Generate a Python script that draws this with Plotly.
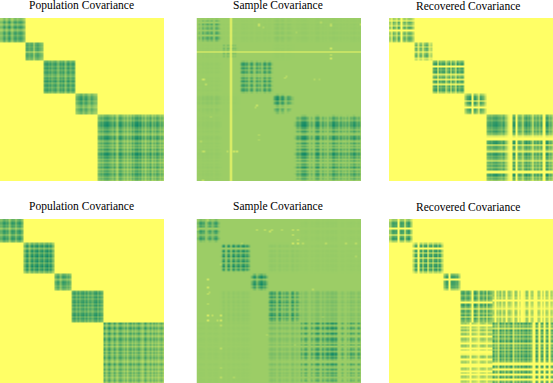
import plotly.graph_objects as go

TITLES = ["Population Covariance", "Sample Covariance", "Recovered Covariance"]

# block sizes (number of variables per block, 100 in all)
SIZES_TOP = [15, 11, 20, 13, 41]
SIZES_BOTTOM = [14, 19, 10, 20, 37]

# per-variable strengths
POP_TOP = [.72,.8,.92,.75,.85,.95,.78,.72,.9,.95,.82,.9,.95,.85,.7,
           .85,.9,.82,.9,.88,.5,.85,.92,.88,.8,.72,
           .78,.92,.95,.84,.92,.78,.88,.94,.82,.76,.92,.84,.94,.74,.88,.95,.82,.9,.92,.75,
           .75,.85,.92,.95,.8,.9,.92,.78,.72,.88,.84,.76,.72,
           .7,.82,.88,.8,.93,.96,.98,.9,.84,.74,.9,.76,.66,.92,.97,.84,.74,.88,.7,.82,.68,
           .9,.78,.95,.98,.86,.94,.76,.9,.7,.84,.76,.92,.72,.88,.78,.96,.86,.74,.88,.7]
SAM_TOP = [.66,.84,.62,.88,.66,.82,.9,.68,.88,.92,.64,.9,.92,.78,.66,
           .64,.82,.62,.86,.78,.1,.84,.74,.8,.68,.62,
           .68,.92,.96,.8,.92,.7,.88,.94,.68,.7,.92,.78,.92,.66,.86,.96,.76,.9,.92,.68,
           .65,.84,.96,.98,.74,.92,.94,.7,.65,.86,.8,.7,.65,
           .65,.8,.86,.78,.94,.96,.98,.9,.84,.66,.88,.7,.6,.92,.97,.84,.68,.88,.64,.8,.62,
           .9,.76,.96,.98,.84,.94,.72,.9,.66,.82,.72,.94,.68,.88,.76,.96,.86,.72,.88,.66]
REC_TOP = [.62,.0,.85,.72,.3,.9,.8,.0,.75,.92,.62,.85,.92,.8,.55,
           .7,.85,.4,.85,.8,.0,.75,.9,.85,.4,.55,
           .7,.9,.95,.0,.9,.75,.9,.92,.35,.75,.92,.3,.9,.78,.3,.95,.8,.9,.92,.6,
           .6,.85,.92,.95,.0,.9,.92,.7,.0,.88,.85,.75,.45,
           .72,.84,.88,.8,.92,.94,.96,.88,.84,.74,.9,.76,.62,.3,.0,.1,.92,.96,.0,.8,.9,
           .74,.35,.84,.95,.8,.9,.72,.25,.84,.76,.94,.7,.88,.2,.05,.92,.96,.72,.86,.62]

POP_BOT = [.8,.9,.95,.86,.92,.7,.85,.94,.9,.66,.88,.95,.9,.76,
           .72,.88,.95,.73,.9,.96,.76,.92,.98,.76,.9,.96,.74,.92,.98,.8,.94,.84,.7,
           .78,.9,.92,.72,.86,.94,.9,.78,.86,.75,
           .72,.9,.96,.82,.92,.76,.9,.94,.78,.92,.8,.94,.84,.76,.92,.96,.76,.92,.84,.74,
           .92,.74,.86,.96,.78,.7,.92,.8,.72,.9,.96,.82,.74,.92,.7,.86,.94,.76,
           .92,.76,.84,.96,.8,.68,.78,.92,.76,.7,.86,.72,.9,.76,.84,.7,.8,.88,.68]
SAM_BOT = [.72,.88,.94,.85,.92,.55,.78,.94,.86,.6,.84,.94,.86,.7,
           .6,.84,.96,.6,.86,.96,.64,.9,.98,.64,.86,.96,.62,.9,.98,.72,.92,.78,.6,
           .75,.92,.98,.7,.88,.95,.98,.8,.9,.72,
           .65,.88,.96,.8,.92,.66,.86,.96,.7,.9,.76,.92,.84,.64,.9,.96,.68,.9,.82,.66,
           .94,.68,.86,.96,.72,.6,.94,.76,.66,.9,.96,.82,.68,.94,.6,.86,.96,.72,
           .94,.98,.82,.96,.76,.6,.7,.92,.7,.6,.86,.68,.9,.76,.84,.64,.78,.88,.65]
REC_BOT = [.62,.85,.92,.88,.9,.0,.82,.92,.88,.0,.82,.95,.88,.55,
           .5,.85,.9,.0,.85,.92,.35,.9,.95,.0,.85,.92,.4,.9,.95,.6,.92,.8,.5,
           .7,.9,.92,.0,.88,.92,.9,.82,.85,.55,
           .76,.9,.95,.74,.88,.94,.72,.0,.9,.95,.76,.2,.86,.92,.72,.9,.3,.88,.78,.7,
           .92,.7,.88,.45,.94,.74,.84,.5,.9,.72,.86,.95,.45,.9,.74,.88,.55,.92,.72,.86,.94,.7,.88,.74,
           .0,.1,.92,.76,.0,.86,.94,.0,.78,.9,.0,.72,.84]

# thin pattern between the last two blocks of the lower recovered panel
REC_BOT_CROSS_A = [.55,.7,.6,.7,.5,.6,.0,.6,.55,.5,.3,.0,.55,.7,.65,.5,.0,.6,.6,.5]
REC_BOT_CROSS_B = [.6,.0,.7,.4,.7,.0,.6,.7,.0,.6,.7,.4,.0,.7,.6,.0,.5,.0,.0,.1,.7,.6,.0,.5,
                   .6,.0,.0,.6,.5,.0,.6,.0,.6,.5,.0,.6,.4]

BACK_SAMPLE = 0.39
CONTRAST = 1.65       # how strongly the block colours spread
CONTRAST_RECOVERED = 1.55

# (block, block, strength) faint structure between blocks of the sample panels
SAM_TOP_LINKS = [(0, 1, .06), (0, 2, .05), (0, 3, .16), (0, 4, .07), (1, 3, .04)]
SAM_BOT_LINKS = [(3, 4, .32), (1, 3, .10), (1, 4, .05), (0, 4, .05)]
LINK_FLOOR = 0.5

# (row, column, value) pale single cells of the sample panels
SAM_TOP_SPECKS = [(4,37,.2),(4,81,.2),(3,37,.2),(81,4,.2),(81,18,.15),(81,24,.15),(54,35,.2),
                  (18,81,.15),(22,81,.15),(36,53,.2),(71,37,.22),(3,81,.25),(3,99,.2),
                  (40,5,.25),(60,8,.28),(75,2,.28),(74,37,.25)]
SAM_BOT_SPECKS = [(36,6,.15),(41,6,.15),(45,6,.15),(51,6,.2),(58,6,.1),(61,6,.12),(58,9,.12),
                  (61,12,.15),(58,14,.15),(61,14,.15),(44,7,.2),(6,0,.3),(90,14,.25),(96,14,.25),
                  (27,14,.3),(42,70,.25),(59,76,.3),(22,96,.3),(64,14,.25),(78,14,.25)]
TOP_PALE_LINE = 20
TOP_PALE_VALUE = 0.07


def panel(weights, sizes, background=0.0, links=(), specks=(), contrast=CONTRAST):
    total = sum(sizes)
    owner = [b for b, s in enumerate(sizes) for _ in range(s)]
    strength = {(a, b): c for a, b, c in links}
    strength.update({(b, a): c for a, b, c in links})
    z = []
    for i in range(total):
        row = []
        for j in range(total):
            product = weights[i] * weights[j]
            if owner[i] == owner[j]:
                row.append(max(background, product ** contrast))
            else:
                lift = strength.get((owner[i], owner[j]), 0) * max(0, product - LINK_FLOOR)
                row.append(background + lift)
        z.append(row)
    for i, j, v in specks:
        z[i][j] = v
        z[j][i] = v
    return z


z_pop_top = panel(POP_TOP, SIZES_TOP)
z_sam_top = panel(SAM_TOP, SIZES_TOP, BACK_SAMPLE, SAM_TOP_LINKS, SAM_TOP_SPECKS)
for k in range(100):
    z_sam_top[TOP_PALE_LINE][k] = TOP_PALE_VALUE
    z_sam_top[k][TOP_PALE_LINE] = TOP_PALE_VALUE
z_rec_top = panel(REC_TOP, SIZES_TOP, contrast=CONTRAST_RECOVERED)
z_pop_bot = panel(POP_BOT, SIZES_BOTTOM)
z_sam_bot = panel(SAM_BOT, SIZES_BOTTOM, BACK_SAMPLE, SAM_BOT_LINKS, SAM_BOT_SPECKS)
z_rec_bot = panel(REC_BOT, SIZES_BOTTOM, contrast=CONTRAST_RECOVERED)
for ia, a in enumerate(REC_BOT_CROSS_A):
    for ib, b in enumerate(REC_BOT_CROSS_B):
        z_rec_bot[43 + ia][63 + ib] = a * b
        z_rec_bot[63 + ib][43 + ia] = a * b

W, H = 553, 383
COLS = [(0, 164), (196.5, 361), (389, 553)]
ROWS = [(18, 181), (219, 383)]
TITLE_X = [81.5, 278, 468]
TITLE_Y = [5.5, 206.5]
SUMMER_R = [[0, "#ffff66"], [1, "#008066"]]

fig = go.Figure()
layout = dict(width=W, height=H, margin=dict(l=0, r=0, t=0, b=0),
              paper_bgcolor="white", plot_bgcolor="white", showlegend=False, annotations=[])
panels = [z_pop_top, z_sam_top, z_rec_top, z_pop_bot, z_sam_bot, z_rec_bot]
for n, z in enumerate(panels):
    r, c = divmod(n, 3)
    suffix = "" if n == 0 else str(n + 1)
    fig.add_trace(go.Heatmap(z=z, zmin=0, zmax=1, colorscale=SUMMER_R, showscale=False,
                             zsmooth="best", xaxis="x" + suffix, yaxis="y" + suffix,
                             hoverinfo="skip"))
    layout["xaxis" + suffix] = dict(domain=[COLS[c][0] / W, COLS[c][1] / W], visible=False,
                                    range=[-0.5, 99.5], anchor="y" + suffix)
    layout["yaxis" + suffix] = dict(domain=[1 - ROWS[r][1] / H, 1 - ROWS[r][0] / H], visible=False,
                                    range=[99.5, -0.5], anchor="x" + suffix)
    layout["annotations"].append(dict(text=TITLES[c], xref="paper", yref="paper",
                                      x=TITLE_X[c] / W, y=1 - TITLE_Y[r] / H,
                                      xanchor="center", yanchor="middle", showarrow=False,
                                      font=dict(family="Liberation Serif", size=11.5, color="black")))
fig.update_layout(**layout)
fig.write_html("out.html", config=dict(displayModeBar=False),
               post_script="document.body.style.margin='0';")
